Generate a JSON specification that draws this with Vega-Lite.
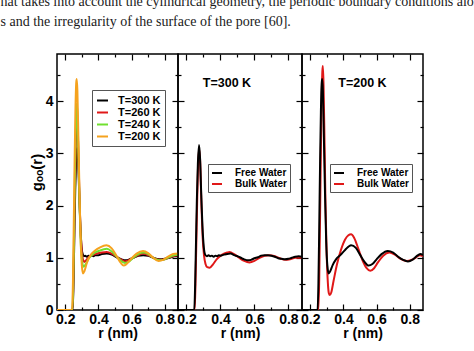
{
  "$schema": "https://vega.github.io/schema/vega-lite/v6.json",
  "padding": {"left": 0, "top": -6, "right": 0, "bottom": 0},
  "title": {
    "text": ["hat takes into account the cylindrical geometry, the periodic boundary conditions along", "s and the irregularity of the surface of the pore [60]."],
    "anchor": "start", "frame": "bounds", "font": "Liberation Serif", "fontSize": 14, "fontWeight": "normal",
    "color": "#1a1a1a", "lineHeight": 20, "baseline": "top", "dx": -28, "offset": 24
  },
  "spacing": 0,
  "bounds": "flush",
  "config": {
    "font": "Liberation Sans",
    "view": {"stroke": "#000", "strokeWidth": 1.5},
    "axis": {"domain": false, "grid": false, "tickColor": "#000", "tickWidth": 1.2,
      "labelFont": "Liberation Sans", "labelFontWeight": "bold", "labelFontSize": 14, "labelColor": "#000",
      "titleFont": "Liberation Sans", "titleFontWeight": "bold", "titleFontSize": 14, "titleColor": "#000",
      "labelFlush": false, "labelOverlap": false},
    "legend": {"orient": "none", "title": null, "fillColor": "#fff", "strokeColor": "#555", "symbolType": "stroke",
      "symbolStrokeWidth": 2, "labelFont": "Liberation Sans", "labelFontWeight": "bold", "labelColor": "#000"}
  },
  "resolve": {"scale": {"color": "independent"}, "legend": {"color": "independent"}},
  "datasets": {
    "p1": [
      {"s":"T=300 K","r":0.15,"g":0},{"s":"T=300 K","r":0.245,"g":0},{"s":"T=300 K","r":0.25,"g":0.6},{"s":"T=300 K","r":0.255,"g":1.5},{"s":"T=300 K","r":0.26,"g":2.3},{"s":"T=300 K","r":0.265,"g":2.85},{"s":"T=300 K","r":0.271,"g":3.1},{"s":"T=300 K","r":0.277,"g":2.9},{"s":"T=300 K","r":0.284,"g":2.25},{"s":"T=300 K","r":0.291,"g":1.6},{"s":"T=300 K","r":0.298,"g":1.2},{"s":"T=300 K","r":0.305,"g":1.07},{"s":"T=300 K","r":0.312,"g":1.03},{"s":"T=300 K","r":0.32,"g":1.04},{"s":"T=300 K","r":0.33,"g":1.02},{"s":"T=300 K","r":0.34,"g":1.04},{"s":"T=300 K","r":0.35,"g":1.03},{"s":"T=300 K","r":0.36,"g":1.05},{"s":"T=300 K","r":0.37,"g":1.03},{"s":"T=300 K","r":0.38,"g":1.05},{"s":"T=300 K","r":0.4,"g":1.05},{"s":"T=300 K","r":0.42,"g":1.07},{"s":"T=300 K","r":0.45,"g":1.08},{"s":"T=300 K","r":0.48,"g":1.06},{"s":"T=300 K","r":0.51,"g":1.01},{"s":"T=300 K","r":0.54,"g":0.97},{"s":"T=300 K","r":0.56,"g":0.95},{"s":"T=300 K","r":0.58,"g":0.96},{"s":"T=300 K","r":0.61,"g":1.0},{"s":"T=300 K","r":0.64,"g":1.04},{"s":"T=300 K","r":0.67,"g":1.05},{"s":"T=300 K","r":0.7,"g":1.04},{"s":"T=300 K","r":0.73,"g":1.0},{"s":"T=300 K","r":0.77,"g":0.97},{"s":"T=300 K","r":0.8,"g":0.98},{"s":"T=300 K","r":0.83,"g":1.0},{"s":"T=300 K","r":0.86,"g":1.03},{"s":"T=300 K","r":0.88,"g":1.03},
      {"s":"T=260 K","r":0.15,"g":0},{"s":"T=260 K","r":0.244,"g":0},{"s":"T=260 K","r":0.25,"g":0.7},{"s":"T=260 K","r":0.255,"g":1.7},{"s":"T=260 K","r":0.26,"g":2.6},{"s":"T=260 K","r":0.265,"g":3.3},{"s":"T=260 K","r":0.27,"g":3.6},{"s":"T=260 K","r":0.276,"g":3.35},{"s":"T=260 K","r":0.283,"g":2.5},{"s":"T=260 K","r":0.29,"g":1.7},{"s":"T=260 K","r":0.298,"g":1.2},{"s":"T=260 K","r":0.307,"g":0.96},{"s":"T=260 K","r":0.315,"g":0.92},{"s":"T=260 K","r":0.325,"g":0.95},{"s":"T=260 K","r":0.345,"g":1.02},{"s":"T=260 K","r":0.38,"g":1.07},{"s":"T=260 K","r":0.42,"g":1.1},{"s":"T=260 K","r":0.45,"g":1.11},{"s":"T=260 K","r":0.48,"g":1.08},{"s":"T=260 K","r":0.51,"g":1.02},{"s":"T=260 K","r":0.54,"g":0.96},{"s":"T=260 K","r":0.56,"g":0.93},{"s":"T=260 K","r":0.58,"g":0.95},{"s":"T=260 K","r":0.61,"g":1.0},{"s":"T=260 K","r":0.64,"g":1.05},{"s":"T=260 K","r":0.67,"g":1.08},{"s":"T=260 K","r":0.7,"g":1.05},{"s":"T=260 K","r":0.73,"g":1.0},{"s":"T=260 K","r":0.77,"g":0.96},{"s":"T=260 K","r":0.8,"g":0.97},{"s":"T=260 K","r":0.83,"g":1.01},{"s":"T=260 K","r":0.86,"g":1.04},{"s":"T=260 K","r":0.88,"g":1.05},
      {"s":"T=240 K","r":0.15,"g":0},{"s":"T=240 K","r":0.243,"g":0},{"s":"T=240 K","r":0.248,"g":0.5},{"s":"T=240 K","r":0.253,"g":1.5},{"s":"T=240 K","r":0.258,"g":2.6},{"s":"T=240 K","r":0.263,"g":3.4},{"s":"T=240 K","r":0.268,"g":3.95},{"s":"T=240 K","r":0.273,"g":3.8},{"s":"T=240 K","r":0.279,"g":3.0},{"s":"T=240 K","r":0.286,"g":2.0},{"s":"T=240 K","r":0.294,"g":1.25},{"s":"T=240 K","r":0.302,"g":0.92},{"s":"T=240 K","r":0.31,"g":0.83},{"s":"T=240 K","r":0.32,"g":0.86},{"s":"T=240 K","r":0.34,"g":0.98},{"s":"T=240 K","r":0.37,"g":1.08},{"s":"T=240 K","r":0.41,"g":1.14},{"s":"T=240 K","r":0.45,"g":1.17},{"s":"T=240 K","r":0.48,"g":1.12},{"s":"T=240 K","r":0.51,"g":1.02},{"s":"T=240 K","r":0.54,"g":0.93},{"s":"T=240 K","r":0.56,"g":0.9},{"s":"T=240 K","r":0.58,"g":0.92},{"s":"T=240 K","r":0.61,"g":1.0},{"s":"T=240 K","r":0.64,"g":1.07},{"s":"T=240 K","r":0.67,"g":1.1},{"s":"T=240 K","r":0.7,"g":1.07},{"s":"T=240 K","r":0.73,"g":1.0},{"s":"T=240 K","r":0.77,"g":0.95},{"s":"T=240 K","r":0.8,"g":0.97},{"s":"T=240 K","r":0.83,"g":1.02},{"s":"T=240 K","r":0.86,"g":1.05},{"s":"T=240 K","r":0.88,"g":1.06},
      {"s":"T=200 K","r":0.15,"g":0},{"s":"T=200 K","r":0.241,"g":0},{"s":"T=200 K","r":0.246,"g":0.5},{"s":"T=200 K","r":0.251,"g":1.6},{"s":"T=200 K","r":0.256,"g":2.8},{"s":"T=200 K","r":0.261,"g":3.8},{"s":"T=200 K","r":0.266,"g":4.35},{"s":"T=200 K","r":0.269,"g":4.42},{"s":"T=200 K","r":0.273,"g":4.2},{"s":"T=200 K","r":0.279,"g":3.3},{"s":"T=200 K","r":0.286,"g":2.2},{"s":"T=200 K","r":0.293,"g":1.3},{"s":"T=200 K","r":0.3,"g":0.85},{"s":"T=200 K","r":0.307,"g":0.7},{"s":"T=200 K","r":0.315,"g":0.74},{"s":"T=200 K","r":0.33,"g":0.9},{"s":"T=200 K","r":0.35,"g":1.04},{"s":"T=200 K","r":0.38,"g":1.14},{"s":"T=200 K","r":0.41,"g":1.2},{"s":"T=200 K","r":0.448,"g":1.24},{"s":"T=200 K","r":0.48,"g":1.18},{"s":"T=200 K","r":0.51,"g":1.03},{"s":"T=200 K","r":0.535,"g":0.9},{"s":"T=200 K","r":0.552,"g":0.85},{"s":"T=200 K","r":0.57,"g":0.88},{"s":"T=200 K","r":0.6,"g":0.99},{"s":"T=200 K","r":0.63,"g":1.08},{"s":"T=200 K","r":0.669,"g":1.13},{"s":"T=200 K","r":0.7,"g":1.09},{"s":"T=200 K","r":0.73,"g":1.0},{"s":"T=200 K","r":0.763,"g":0.94},{"s":"T=200 K","r":0.79,"g":0.96},{"s":"T=200 K","r":0.82,"g":1.02},{"s":"T=200 K","r":0.85,"g":1.07},{"s":"T=200 K","r":0.88,"g":1.08}
    ],
    "p2": [
      {"s":"Bulk Water","r":0.15,"g":0},{"s":"Bulk Water","r":0.248,"g":0},{"s":"Bulk Water","r":0.253,"g":0.5},{"s":"Bulk Water","r":0.258,"g":1.3},{"s":"Bulk Water","r":0.263,"g":2.1},{"s":"Bulk Water","r":0.268,"g":2.75},{"s":"Bulk Water","r":0.275,"g":3.08},{"s":"Bulk Water","r":0.281,"g":2.8},{"s":"Bulk Water","r":0.288,"g":2.0},{"s":"Bulk Water","r":0.295,"g":1.4},{"s":"Bulk Water","r":0.303,"g":1.05},{"s":"Bulk Water","r":0.312,"g":0.88},{"s":"Bulk Water","r":0.322,"g":0.82},{"s":"Bulk Water","r":0.337,"g":0.81},{"s":"Bulk Water","r":0.355,"g":0.87},{"s":"Bulk Water","r":0.38,"g":0.98},{"s":"Bulk Water","r":0.41,"g":1.06},{"s":"Bulk Water","r":0.44,"g":1.1},{"s":"Bulk Water","r":0.454,"g":1.11},{"s":"Bulk Water","r":0.48,"g":1.07},{"s":"Bulk Water","r":0.51,"g":1.0},{"s":"Bulk Water","r":0.54,"g":0.94},{"s":"Bulk Water","r":0.57,"g":0.91},{"s":"Bulk Water","r":0.6,"g":0.94},{"s":"Bulk Water","r":0.63,"g":1.0},{"s":"Bulk Water","r":0.66,"g":1.04},{"s":"Bulk Water","r":0.69,"g":1.05},{"s":"Bulk Water","r":0.72,"g":1.03},{"s":"Bulk Water","r":0.75,"g":0.99},{"s":"Bulk Water","r":0.78,"g":0.96},{"s":"Bulk Water","r":0.81,"g":0.97},{"s":"Bulk Water","r":0.84,"g":1.0},{"s":"Bulk Water","r":0.88,"g":1.0},
      {"s":"Free Water","r":0.15,"g":0},{"s":"Free Water","r":0.246,"g":0},{"s":"Free Water","r":0.251,"g":0.5},{"s":"Free Water","r":0.256,"g":1.3},{"s":"Free Water","r":0.261,"g":2.1},{"s":"Free Water","r":0.267,"g":2.8},{"s":"Free Water","r":0.274,"g":3.16},{"s":"Free Water","r":0.28,"g":2.9},{"s":"Free Water","r":0.287,"g":2.2},{"s":"Free Water","r":0.294,"g":1.6},{"s":"Free Water","r":0.302,"g":1.2},{"s":"Free Water","r":0.31,"g":1.06},{"s":"Free Water","r":0.32,"g":1.03},{"s":"Free Water","r":0.33,"g":1.05},{"s":"Free Water","r":0.34,"g":1.03},{"s":"Free Water","r":0.35,"g":1.04},{"s":"Free Water","r":0.36,"g":1.02},{"s":"Free Water","r":0.37,"g":1.04},{"s":"Free Water","r":0.38,"g":1.03},{"s":"Free Water","r":0.39,"g":1.05},{"s":"Free Water","r":0.4,"g":1.04},{"s":"Free Water","r":0.42,"g":1.06},{"s":"Free Water","r":0.44,"g":1.07},{"s":"Free Water","r":0.46,"g":1.08},{"s":"Free Water","r":0.48,"g":1.05},{"s":"Free Water","r":0.5,"g":1.03},{"s":"Free Water","r":0.52,"g":1.0},{"s":"Free Water","r":0.54,"g":0.97},{"s":"Free Water","r":0.56,"g":0.95},{"s":"Free Water","r":0.58,"g":0.96},{"s":"Free Water","r":0.6,"g":0.99},{"s":"Free Water","r":0.62,"g":1.01},{"s":"Free Water","r":0.64,"g":1.04},{"s":"Free Water","r":0.66,"g":1.05},{"s":"Free Water","r":0.68,"g":1.05},{"s":"Free Water","r":0.7,"g":1.04},{"s":"Free Water","r":0.72,"g":1.02},{"s":"Free Water","r":0.74,"g":0.99},{"s":"Free Water","r":0.76,"g":0.98},{"s":"Free Water","r":0.78,"g":0.97},{"s":"Free Water","r":0.8,"g":0.98},{"s":"Free Water","r":0.82,"g":1.0},{"s":"Free Water","r":0.84,"g":1.02},{"s":"Free Water","r":0.86,"g":1.03},{"s":"Free Water","r":0.88,"g":1.02}
    ],
    "p3": [
      {"s":"Bulk Water","r":0.15,"g":0},{"s":"Bulk Water","r":0.249,"g":0},{"s":"Bulk Water","r":0.254,"g":0.6},{"s":"Bulk Water","r":0.259,"g":1.8},{"s":"Bulk Water","r":0.264,"g":3.1},{"s":"Bulk Water","r":0.269,"g":4.1},{"s":"Bulk Water","r":0.273,"g":4.58},{"s":"Bulk Water","r":0.276,"g":4.67},{"s":"Bulk Water","r":0.28,"g":4.3},{"s":"Bulk Water","r":0.286,"g":3.2},{"s":"Bulk Water","r":0.292,"g":2.0},{"s":"Bulk Water","r":0.299,"g":1.05},{"s":"Bulk Water","r":0.306,"g":0.52},{"s":"Bulk Water","r":0.312,"g":0.32},{"s":"Bulk Water","r":0.318,"g":0.285},{"s":"Bulk Water","r":0.326,"g":0.33},{"s":"Bulk Water","r":0.34,"g":0.55},{"s":"Bulk Water","r":0.36,"g":0.86},{"s":"Bulk Water","r":0.385,"g":1.15},{"s":"Bulk Water","r":0.41,"g":1.35},{"s":"Bulk Water","r":0.43,"g":1.43},{"s":"Bulk Water","r":0.446,"g":1.45},{"s":"Bulk Water","r":0.465,"g":1.38},{"s":"Bulk Water","r":0.49,"g":1.17},{"s":"Bulk Water","r":0.515,"g":0.95},{"s":"Bulk Water","r":0.54,"g":0.8},{"s":"Bulk Water","r":0.562,"g":0.75},{"s":"Bulk Water","r":0.585,"g":0.8},{"s":"Bulk Water","r":0.61,"g":0.92},{"s":"Bulk Water","r":0.64,"g":1.04},{"s":"Bulk Water","r":0.677,"g":1.1},{"s":"Bulk Water","r":0.71,"g":1.06},{"s":"Bulk Water","r":0.745,"g":0.98},{"s":"Bulk Water","r":0.783,"g":0.94},{"s":"Bulk Water","r":0.81,"g":0.96},{"s":"Bulk Water","r":0.84,"g":1.01},{"s":"Bulk Water","r":0.86,"g":1.05},{"s":"Bulk Water","r":0.88,"g":1.03},
      {"s":"Free Water","r":0.15,"g":0},{"s":"Free Water","r":0.244,"g":0},{"s":"Free Water","r":0.249,"g":0.5},{"s":"Free Water","r":0.254,"g":1.6},{"s":"Free Water","r":0.259,"g":2.8},{"s":"Free Water","r":0.264,"g":3.8},{"s":"Free Water","r":0.269,"g":4.35},{"s":"Free Water","r":0.272,"g":4.42},{"s":"Free Water","r":0.276,"g":4.2},{"s":"Free Water","r":0.282,"g":3.3},{"s":"Free Water","r":0.289,"g":2.2},{"s":"Free Water","r":0.296,"g":1.3},{"s":"Free Water","r":0.303,"g":0.85},{"s":"Free Water","r":0.311,"g":0.7},{"s":"Free Water","r":0.32,"g":0.74},{"s":"Free Water","r":0.335,"g":0.86},{"s":"Free Water","r":0.355,"g":0.97},{"s":"Free Water","r":0.381,"g":1.05},{"s":"Free Water","r":0.41,"g":1.15},{"s":"Free Water","r":0.446,"g":1.24},{"s":"Free Water","r":0.475,"g":1.19},{"s":"Free Water","r":0.5,"g":1.06},{"s":"Free Water","r":0.525,"g":0.93},{"s":"Free Water","r":0.552,"g":0.85},{"s":"Free Water","r":0.575,"g":0.88},{"s":"Free Water","r":0.6,"g":0.97},{"s":"Free Water","r":0.63,"g":1.07},{"s":"Free Water","r":0.667,"g":1.13},{"s":"Free Water","r":0.7,"g":1.1},{"s":"Free Water","r":0.73,"g":1.02},{"s":"Free Water","r":0.76,"g":0.96},{"s":"Free Water","r":0.789,"g":0.93},{"s":"Free Water","r":0.82,"g":0.97},{"s":"Free Water","r":0.85,"g":1.05},{"s":"Free Water","r":0.865,"g":1.07},{"s":"Free Water","r":0.88,"g":1.05}
    ]
  },
  "hconcat": [
    {
      "width": 121, "height": 256,
      "data": {"name": "p1"},
      "layer": [
        {"mark": {"type": "line", "strokeWidth": 2, "interpolate": "monotone", "clip": true},
         "encoding": {
           "x": {"field": "r", "type": "quantitative", "scale": {"domain": [0.15, 0.88], "nice": false, "zero": false},
             "axis": {"orient": "bottom", "values": [0.2, 0.4, 0.6, 0.8], "format": ".1f", "tickSize": -6, "labelPadding": 8, "title": "r (nm)", "titlePadding": 0}},
           "y": {"field": "g", "type": "quantitative", "scale": {"domain": [0, 4.9], "nice": false},
             "axis": {"orient": "left", "values": [0, 1, 2, 3, 4], "format": "d", "tickSize": -6, "labelPadding": 10, "title": "gₒₒ(r)", "titleFontSize": 15, "titlePadding": 1, "titleY": 118}},
           "color": {"field": "s", "type": "nominal", "scale": {"domain": ["T=300 K", "T=260 K", "T=240 K", "T=200 K"], "range": ["#000000", "#e01818", "#70e030", "#f5a21e"]},
             "legend": {"legendX": 35, "legendY": 36, "padding": 4, "rowPadding": 0, "symbolSize": 121, "labelFontSize": 11, "labelOffset": 9}}
         }},
        {"mark": {"type": "line", "opacity": 0},
         "encoding": {
           "x": {"field": "r", "type": "quantitative", "scale": {"domain": [0.15, 0.88], "nice": false, "zero": false},
             "axis": {"orient": "top", "values": [0.2, 0.4, 0.6, 0.8], "labels": false, "tickSize": -6, "title": null}},
           "y": {"field": "g", "type": "quantitative", "scale": {"domain": [0, 4.9], "nice": false},
             "axis": {"orient": "right", "values": [0, 1, 2, 3, 4], "labels": false, "tickSize": -6, "title": null}}
         }},
        {"mark": {"type": "line", "opacity": 0},
         "encoding": {
           "x": {"field": "r", "type": "quantitative", "scale": {"domain": [0.15, 0.88], "nice": false, "zero": false},
             "axis": {"orient": "bottom", "values": [0.3, 0.5, 0.7], "labels": false, "tickSize": -3, "title": null}},
           "y": {"field": "g", "type": "quantitative", "scale": {"domain": [0, 4.9], "nice": false},
             "axis": {"orient": "left", "values": [0.5, 1.5, 2.5, 3.5, 4.5], "labels": false, "tickSize": -3, "title": null}}
         }},
        {"mark": {"type": "line", "opacity": 0},
         "encoding": {
           "x": {"field": "r", "type": "quantitative", "scale": {"domain": [0.15, 0.88], "nice": false, "zero": false},
             "axis": {"orient": "top", "values": [0.3, 0.5, 0.7], "labels": false, "tickSize": -3, "title": null}},
           "y": {"field": "g", "type": "quantitative", "scale": {"domain": [0, 4.9], "nice": false},
             "axis": {"orient": "right", "values": [0.5, 1.5, 2.5, 3.5, 4.5], "labels": false, "tickSize": -3, "title": null}}
         }}
      ],
      "resolve": {"axis": {"x": "independent", "y": "independent"}}
    },
    {
      "width": 124, "height": 256,
      "title": {"text": "T=300 K", "font": "Liberation Sans", "fontSize": 12.5, "fontWeight": "bold", "color": "#000", "baseline": "middle", "offset": -42, "dx": -13},
      "data": {"name": "p2"},
      "layer": [
        {"mark": {"type": "line", "strokeWidth": 2, "interpolate": "monotone", "clip": true},
         "encoding": {
           "x": {"field": "r", "type": "quantitative", "scale": {"domain": [0.15, 0.88], "nice": false, "zero": false},
             "axis": {"orient": "bottom", "values": [0.2, 0.4, 0.6, 0.8], "format": ".1f", "tickSize": -6, "labelPadding": 8, "title": "r (nm)", "titlePadding": 0}},
           "y": {"field": "g", "type": "quantitative", "scale": {"domain": [0, 4.9], "nice": false},
             "axis": {"orient": "left", "values": [0, 1, 2, 3, 4], "labels": false, "tickSize": -6, "title": null}},
           "color": {"field": "s", "type": "nominal", "scale": {"domain": ["Free Water", "Bulk Water"], "range": ["#000000", "#e01818"]},
             "legend": {"legendX": 30, "legendY": 110, "padding": 3, "rowPadding": 0, "symbolSize": 100, "labelFontSize": 10, "labelOffset": 12}}
         }},
        {"mark": {"type": "line", "opacity": 0},
         "encoding": {
           "x": {"field": "r", "type": "quantitative", "scale": {"domain": [0.15, 0.88], "nice": false, "zero": false},
             "axis": {"orient": "top", "values": [0.2, 0.4, 0.6, 0.8], "labels": false, "tickSize": -6, "title": null}},
           "y": {"field": "g", "type": "quantitative", "scale": {"domain": [0, 4.9], "nice": false},
             "axis": {"orient": "right", "values": [0, 1, 2, 3, 4], "labels": false, "tickSize": -6, "title": null}}
         }},
        {"mark": {"type": "line", "opacity": 0},
         "encoding": {
           "x": {"field": "r", "type": "quantitative", "scale": {"domain": [0.15, 0.88], "nice": false, "zero": false},
             "axis": {"orient": "bottom", "values": [0.3, 0.5, 0.7], "labels": false, "tickSize": -3, "title": null}},
           "y": {"field": "g", "type": "quantitative", "scale": {"domain": [0, 4.9], "nice": false},
             "axis": {"orient": "left", "values": [0.5, 1.5, 2.5, 3.5, 4.5], "labels": false, "tickSize": -3, "title": null}}
         }},
        {"mark": {"type": "line", "opacity": 0},
         "encoding": {
           "x": {"field": "r", "type": "quantitative", "scale": {"domain": [0.15, 0.88], "nice": false, "zero": false},
             "axis": {"orient": "top", "values": [0.3, 0.5, 0.7], "labels": false, "tickSize": -3, "title": null}},
           "y": {"field": "g", "type": "quantitative", "scale": {"domain": [0, 4.9], "nice": false},
             "axis": {"orient": "right", "values": [0.5, 1.5, 2.5, 3.5, 4.5], "labels": false, "tickSize": -3, "title": null}}
         }}
      ],
      "resolve": {"axis": {"x": "independent", "y": "independent"}}
    },
    {
      "width": 121, "height": 256,
      "title": {"text": "T=200 K", "font": "Liberation Sans", "fontSize": 12.5, "fontWeight": "bold", "color": "#000", "baseline": "middle", "offset": -42, "dx": 0},
      "data": {"name": "p3"},
      "layer": [
        {"mark": {"type": "line", "strokeWidth": 2, "interpolate": "monotone", "clip": true},
         "encoding": {
           "x": {"field": "r", "type": "quantitative", "scale": {"domain": [0.15, 0.88], "nice": false, "zero": false},
             "axis": {"orient": "bottom", "values": [0.2, 0.4, 0.6, 0.8], "format": ".1f", "tickSize": -6, "labelPadding": 8, "title": "r (nm)", "titlePadding": 0}},
           "y": {"field": "g", "type": "quantitative", "scale": {"domain": [0, 4.9], "nice": false},
             "axis": {"orient": "left", "values": [0, 1, 2, 3, 4], "labels": false, "tickSize": -6, "title": null}},
           "color": {"field": "s", "type": "nominal", "scale": {"domain": ["Free Water", "Bulk Water"], "range": ["#000000", "#e01818"]},
             "legend": {"legendX": 28, "legendY": 110, "padding": 3, "rowPadding": 0, "symbolSize": 100, "labelFontSize": 10, "labelOffset": 12}}
         }},
        {"mark": {"type": "line", "opacity": 0},
         "encoding": {
           "x": {"field": "r", "type": "quantitative", "scale": {"domain": [0.15, 0.88], "nice": false, "zero": false},
             "axis": {"orient": "top", "values": [0.2, 0.4, 0.6, 0.8], "labels": false, "tickSize": -6, "title": null}},
           "y": {"field": "g", "type": "quantitative", "scale": {"domain": [0, 4.9], "nice": false},
             "axis": {"orient": "right", "values": [0, 1, 2, 3, 4], "labels": false, "tickSize": -6, "title": null}}
         }},
        {"mark": {"type": "line", "opacity": 0},
         "encoding": {
           "x": {"field": "r", "type": "quantitative", "scale": {"domain": [0.15, 0.88], "nice": false, "zero": false},
             "axis": {"orient": "bottom", "values": [0.3, 0.5, 0.7], "labels": false, "tickSize": -3, "title": null}},
           "y": {"field": "g", "type": "quantitative", "scale": {"domain": [0, 4.9], "nice": false},
             "axis": {"orient": "left", "values": [0.5, 1.5, 2.5, 3.5, 4.5], "labels": false, "tickSize": -3, "title": null}}
         }},
        {"mark": {"type": "line", "opacity": 0},
         "encoding": {
           "x": {"field": "r", "type": "quantitative", "scale": {"domain": [0.15, 0.88], "nice": false, "zero": false},
             "axis": {"orient": "top", "values": [0.3, 0.5, 0.7], "labels": false, "tickSize": -3, "title": null}},
           "y": {"field": "g", "type": "quantitative", "scale": {"domain": [0, 4.9], "nice": false},
             "axis": {"orient": "right", "values": [0.5, 1.5, 2.5, 3.5, 4.5], "labels": false, "tickSize": -3, "title": null}}
         }}
      ],
      "resolve": {"axis": {"x": "independent", "y": "independent"}}
    }
  ]
}
